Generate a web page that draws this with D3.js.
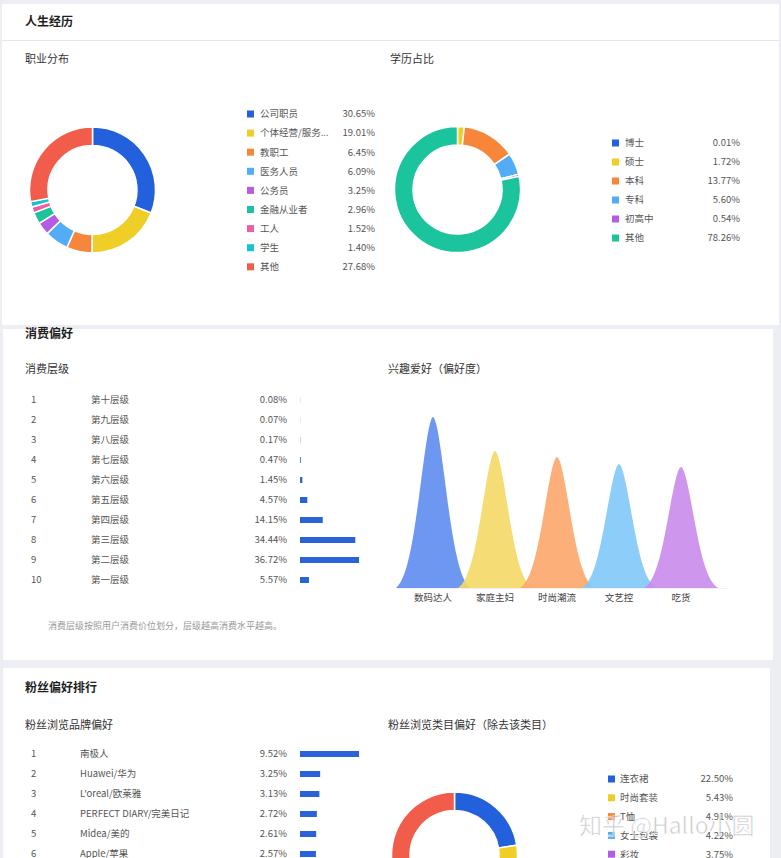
<!DOCTYPE html>
<html>
<head>
<meta charset="utf-8">
<script src="https://cdn.jsdelivr.net/npm/d3@7"></script>
<style>
  html, body { margin: 0; padding: 0; background: #eceef3; }
  svg { display: block; font-family: "Noto Sans CJK SC", "Noto Sans", sans-serif; }
</style>
</head>
<body>
<div id="chart"></div>
<script>
// Fan profile dashboard: three stacked panels (人生经历 / 消费偏好 / 粉丝偏好排行)

const jobLabels = ["公司职员", "个体经营/服务...", "教职工", "医务人员", "公务员", "金融从业者", "工人", "学生", "其他"];
const jobValues = [30.65, 19.01, 6.45, 6.09, 3.25, 2.96, 1.52, 1.40, 27.68];

const eduLabels = ["博士", "硕士", "本科", "专科", "初高中", "其他"];
const eduValues = [0.01, 1.72, 13.77, 5.60, 0.54, 78.26];

const levelNames = ["第十层级", "第九层级", "第八层级", "第七层级", "第六层级", "第五层级", "第四层级", "第三层级", "第二层级", "第一层级"];
const levelValues = [0.08, 0.07, 0.17, 0.47, 1.45, 4.57, 14.15, 34.44, 36.72, 5.57];

const interestLabels = ["数码达人", "家庭主妇", "时尚潮流", "文艺控", "吃货"];
const interestValues = [100, 80.1, 76.6, 72.5, 70.8];

const brandNames = ["南极人", "Huawei/华为", "L'oreal/欧莱雅", "PERFECT DIARY/完美日记", "Midea/美的", "Apple/苹果"];
const brandValues = [9.52, 3.25, 3.13, 2.72, 2.61, 2.57];

const catLabels = ["连衣裙", "时尚套装", "T恤", "女士包袋", "彩妆", "其他"];
const catValues = [22.50, 5.43, 4.91, 4.22, 3.75, 59.19];

const palette = ["#2360dc", "#efcf27", "#f7853a", "#52adf6", "#b25de4", "#1cc49e", "#ec5fa8", "#15c4d0", "#f25c4b"];
const eduColors = ["#2360dc", "#efcf27", "#f7853a", "#52adf6", "#b25de4", "#1cc49e"];
const catColors = ["#2360dc", "#efcf27", "#f7853a", "#52adf6", "#b25de4", "#f25c4b"];
const peakColors = ["#5d8cee", "#f5d866", "#fca66a", "#80c8fa", "#c98ceb"];
const barBlue = "#2962d9";

const W = 781, H = 858;
const svg = d3.select("#chart").append("svg").attr("width", W).attr("height", H);
svg.append("rect").attr("width", W).attr("height", H).attr("fill", "#eceef3");

// panels
svg.append("rect").attr("x", 2).attr("y", 4).attr("width", 777).attr("height", 321).attr("fill", "#fff");
svg.append("line").attr("x1", 2).attr("x2", 779).attr("y1", 40.5).attr("y2", 40.5).attr("stroke", "#e6e6e6");
svg.append("rect").attr("x", 3).attr("y", 329).attr("width", 770).attr("height", 331).attr("fill", "#fff");
svg.append("rect").attr("x", 3).attr("y", 668).attr("width", 767).attr("height", 190).attr("fill", "#fff");

function title(x, y, t, bold) {
  svg.append("text").attr("x", x).attr("y", y).text(t)
    .attr("font-size", bold ? 12 : 11).attr("font-weight", bold ? 700 : 400)
    .attr("fill", bold ? "#1f1f1f" : "#333");
}
title(25, 26, "人生经历", true);
title(25, 63, "职业分布");
title(390, 63, "学历占比");
title(25, 338, "消费偏好", true);
title(25, 373, "消费层级");
title(388, 373, "兴趣爱好（偏好度）");
title(25, 692, "粉丝偏好排行", true);
title(25, 729, "粉丝浏览品牌偏好");
title(388, 729, "粉丝浏览类目偏好（除去该类目）");

// donut + legend
function donut(cx, cy, values, colors) {
  const pie = d3.pie().sort(null).value(d => d);
  const arc = d3.arc().innerRadius(44.5).outerRadius(63);
  svg.append("g").attr("transform", `translate(${cx},${cy})`)
    .selectAll("path").data(pie(values)).join("path")
    .attr("d", arc)
    .attr("fill", (d, i) => colors[i])
    .attr("stroke", "#fff").attr("stroke-width", 1.5);
}

function legend(x, y0, step, labelX, valueX, labels, values, colors) {
  const g = svg.append("g");
  const rows = g.selectAll("g").data(labels).join("g")
    .attr("transform", (d, i) => `translate(0,${y0 + i * step})`);
  rows.append("rect").attr("x", x).attr("y", -3.5).attr("width", 7).attr("height", 7)
    .attr("fill", (d, i) => colors[i]);
  rows.append("text").attr("x", labelX).attr("dy", "0.35em").text(d => d)
    .attr("font-size", 9.5).attr("fill", "#555");
  rows.append("text").attr("x", valueX).attr("dy", "0.35em").attr("text-anchor", "end")
    .text((d, i) => values[i].toFixed(2) + "%")
    .attr("font-size", 9.5).attr("fill", "#555");
}

donut(92.5, 190, jobValues, palette);
legend(247, 114, 19.1, 260, 375, jobLabels, jobValues, palette);

donut(457.5, 189.5, eduValues, eduColors);
legend(612, 143, 19, 625, 740, eduLabels, eduValues, eduColors);

// category donut sits at the bottom edge; only the first five legend rows are in view
donut(454.5, 855, catValues, catColors);
legend(608, 779, 18.8, 620, 733, catLabels.slice(0, 5), catValues, catColors);

// ranked table with bars
function rankTable(y0, nameX, names, values) {
  const x = d3.scaleLinear().domain([0, d3.max(values)]).range([0, 59]);
  const y = d3.scalePoint().domain(d3.range(names.length)).range([y0, y0 + 20 * (names.length - 1)]);
  const rows = svg.append("g").selectAll("g").data(names).join("g")
    .attr("transform", (d, i) => `translate(0,${y(i)})`);
  rows.append("text").attr("x", 31).attr("dy", "0.35em").text((d, i) => i + 1)
    .attr("font-size", 9.5).attr("fill", "#555");
  rows.append("text").attr("x", nameX).attr("dy", "0.35em").text(d => d)
    .attr("font-size", 9.5).attr("fill", "#555");
  rows.append("text").attr("x", 287).attr("dy", "0.35em").attr("text-anchor", "end")
    .text((d, i) => values[i].toFixed(2) + "%").attr("font-size", 9.5).attr("fill", "#555");
  rows.append("rect").attr("x", 300).attr("y", -3).attr("height", 6)
    .attr("width", (d, i) => x(values[i])).attr("fill", barBlue);
}
rankTable(400, 91, levelNames, levelValues);
rankTable(754, 80, brandNames, brandValues);

svg.append("text").attr("x", 48).attr("y", 629)
  .text("消费层级按照用户消费价位划分，层级越高消费水平越高。")
  .attr("font-size", 9).attr("fill", "#999");

// interest peaks: pointed bell marks, height from the y scale
const px = d3.scaleBand().domain(interestLabels).range([402, 712]).padding(0);
const py = d3.scaleLinear().domain([0, 100]).range([588, 417]);
svg.append("line").attr("x1", 397).attr("x2", 727).attr("y1", 588.5).attr("y2", 588.5)
  .attr("stroke", "#f0f0f0");
const halfW = 37, spread = 18.6, power = 1.8;
const edge = Math.exp(-Math.pow(halfW / spread, power));
const shape = t => Math.max(0, (Math.exp(-Math.pow(Math.abs(t) / spread, power)) - edge) / (1 - edge));
const offsets = d3.range(-halfW, halfW + 0.5, 1);
function peakPath(cx, v) {
  const area = d3.area()
    .x(t => cx + t)
    .y0(py(0))
    .y1(t => py(v * shape(t)))
    .curve(d3.curveMonotoneX);
  return area(offsets);
}
svg.append("g").selectAll("path").data(interestLabels).join("path")
  .attr("d", (d, i) => peakPath(px(d) + px.bandwidth() / 2, interestValues[i]))
  .attr("fill", (d, i) => peakColors[i]).attr("opacity", 0.9);
svg.append("g").attr("transform", "translate(0,588)")
  .call(d3.axisBottom(px).tickSize(0).tickPadding(6))
  .call(g => g.select(".domain").remove())
  .selectAll("text").attr("font-size", 9.5).attr("fill", "#444")
  .attr("font-family", "Noto Sans CJK SC, sans-serif");

// watermark
svg.append("text").attr("x", 579).attr("y", 834).text("知乎 @Hallo小圆")
  .attr("font-size", 23).attr("fill", "#b8b8b8").attr("opacity", 0.75)
  .attr("stroke", "#fff").attr("stroke-width", 0.6);
</script>
</body>
</html>
